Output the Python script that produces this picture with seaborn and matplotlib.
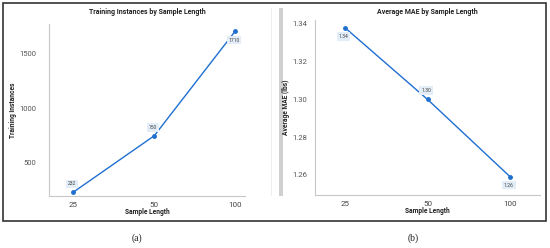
import matplotlib
matplotlib.use("Agg")
import matplotlib.pyplot as plt
import seaborn as sns
import pandas as pd
from matplotlib.patches import Rectangle

# data
sample_length = ["25", "50", "100"]
train_instances = [232, 750, 1710]
avg_mae = [1.338, 1.300, 1.259]
mae_labels = ["1.34", "1.30", "1.26"]

line_color = "#1f6fd1"
box_color = "#e2edf8"

sns.set_style("white")
plt.rcParams["font.family"] = ["Roboto", "DejaVu Sans"]

fig = plt.figure(figsize=(5.5, 2.48), dpi=100)
ax1 = fig.add_axes([49 / 550, 52 / 248, 196 / 550, 172 / 248])
ax2 = fig.add_axes([315 / 550, 53 / 248, 225 / 550, 175 / 248])

df1 = pd.DataFrame({"len": sample_length, "val": train_instances})
df2 = pd.DataFrame({"len": sample_length, "val": avg_mae})

sns.lineplot(data=df1, x="len", y="val", ax=ax1, color=line_color, lw=1,
             marker="o", markersize=3.5, markeredgewidth=0)
sns.lineplot(data=df2, x="len", y="val", ax=ax2, color=line_color, lw=1,
             marker="o", markersize=3.5, markeredgewidth=0)


def add_labels(ax, xs, ys, texts, offsets):
    for x, y, t, dy in zip(xs, ys, texts, offsets):
        ax.annotate(t, (x, y), xytext=(-1, dy), textcoords="offset points",
                    ha="center", va="center", fontsize=3.6, color="#444444",
                    bbox=dict(boxstyle="square,pad=0.35", fc=box_color, ec="none"))


add_labels(ax1, range(3), train_instances, [str(v) for v in train_instances], [6, 6, -6.5])
add_labels(ax2, range(3), avg_mae, mae_labels, [-6.5, 6.5, -6])

ax1.set_xlim(-0.3, 2.12)
ax1.set_ylim(197, 1775)
ax1.set_yticks([500, 1000, 1500])
ax2.set_xlim(-0.36, 2.36)
ax2.set_ylim(1.2494, 1.342)
ax2.set_yticks([1.26, 1.28, 1.30, 1.32, 1.34])
ax2.set_yticklabels([f"{v:.2f}" for v in [1.26, 1.28, 1.30, 1.32, 1.34]])

titles = ["Training Instances by Sample Length", "Average MAE by Sample Length"]
ylabels = ["Training Instances", "Average MAE (lbs)"]
title_pads = [7, 4]
ytick_pads = [9, 5.5]
ylabel_pads = [2, 1.5]
for ax, title, ylab, tp, yp, lp in zip([ax1, ax2], titles, ylabels, title_pads, ytick_pads, ylabel_pads):
    ax.set_title(title, fontsize=5, fontweight="bold", color="#222222", pad=tp)
    ax.set_xlabel("Sample Length", fontsize=4.8, fontweight="bold", color="#222222", labelpad=0)
    ax.set_ylabel(ylab, fontsize=4.8, fontweight="bold", color="#222222", labelpad=lp)
    for s in ["top", "right"]:
        ax.spines[s].set_visible(False)
    for s in ["left", "bottom"]:
        ax.spines[s].set_color("#c8c8c8")
        ax.spines[s].set_linewidth(0.8)
    ax.tick_params(axis="y", labelsize=5.5, colors="#555555", length=0, pad=yp)
    ax.tick_params(axis="x", labelsize=5.8, colors="#444444", length=0, pad=4.5)
    ax.grid(False)

# outer frame and panel divider
fig.patches.append(Rectangle((3 / 550, 27 / 248), 543 / 550, 218 / 248,
                             transform=fig.transFigure, fill=False,
                             ec="#333333", lw=1.2))
fig.patches.append(Rectangle((279 / 550, 52 / 248), 3.5 / 550, 188 / 248,
                             transform=fig.transFigure, fc="#d0d0d0", ec="none",
                             zorder=-1))
fig.patches.append(Rectangle((271 / 550, 52 / 248), 1 / 550, 188 / 248,
                             transform=fig.transFigure, fc="#eeeeee", ec="none",
                             zorder=-1))

fig.text(137 / 550, 1 - 238 / 248, "(a)", ha="center", va="center",
         fontsize=7, family="Liberation Serif", color="#222222")
fig.text(413 / 550, 1 - 238 / 248, "(b)", ha="center", va="center",
         fontsize=7, family="Liberation Serif", color="#222222")

fig.savefig("out.png", dpi=100)
